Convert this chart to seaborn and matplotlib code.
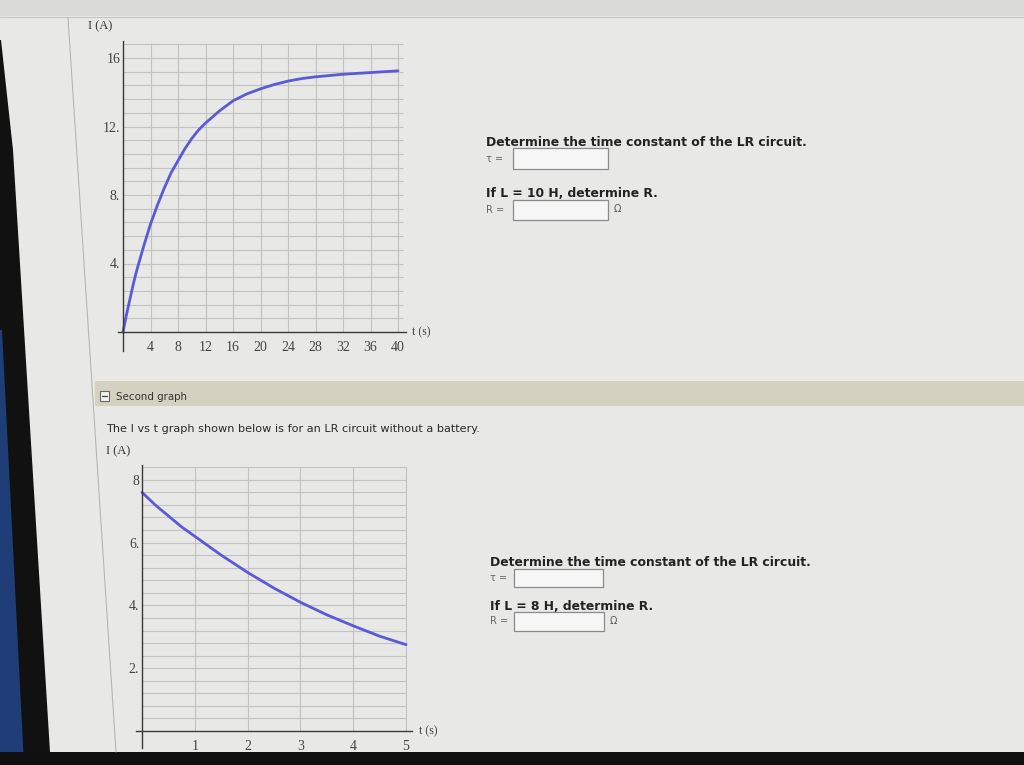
import numpy as np
import pandas as pd
import matplotlib
matplotlib.use("Agg")
import matplotlib.pyplot as plt
import seaborn as sns
from matplotlib.patches import Rectangle, Polygon

# ---------------- data ----------------
t_charge = [0, 0.5, 1, 1.5, 2, 2.5, 3, 4, 5, 6, 7, 8, 9, 10, 11, 12, 14, 16, 18,
            20, 22, 24, 26, 28, 32, 36, 40]
i_charge = [0, 1.0, 1.9, 2.8, 3.6, 4.3, 5.0, 6.3, 7.4, 8.4, 9.3, 10.0, 10.7, 11.3,
            11.8, 12.2, 12.9, 13.5, 13.9, 14.2, 14.45, 14.65, 14.8, 14.9, 15.05,
            15.15, 15.25]
x1_ticks = [4, 8, 12, 16, 20, 24, 28, 32, 36, 40]
x1_labels = ["4", "8", "12", "16", "20", "24", "28", "32", "36", "40"]
y1_ticks = [4, 8, 12, 16]
y1_labels = ["4.", "8.", "12.", "16"]

t_decay = [0, 0.25, 0.5, 0.75, 1, 1.5, 2, 2.5, 3, 3.5, 4, 4.5, 5]
i_decay = [7.6, 7.2, 6.85, 6.5, 6.2, 5.6, 5.05, 4.55, 4.1, 3.7, 3.35, 3.02, 2.75]
x2_ticks = [1, 2, 3, 4, 5]
x2_labels = ["1", "2", "3", "4", "5"]
y2_ticks = [2, 4, 6, 8]
y2_labels = ["2.", "4.", "6.", "8"]

# ---------------- style ----------------
sns.set_theme(style="white")
plt.rcParams["font.family"] = ["DejaVu Sans"]

W, H = 1024, 765
fig = plt.figure(figsize=(W / 100, H / 100), dpi=100)
page = "#e8e8e6"
fig.patch.set_facecolor(page)

def px_axes(x0, x1, y0, y1, z=1):
    return fig.add_axes([x0 / W, 1 - y1 / H, (x1 - x0) / W, (y1 - y0) / H], zorder=z)

# ---------------- background decorations (pixel space) ----------------
bg = px_axes(0, W, 0, H, z=0)
bg.set_xlim(0, W)
bg.set_ylim(H, 0)
bg.axis("off")
bg.add_patch(Rectangle((0, 0), W, 16, color="#dadad8", lw=0))
bg.plot([0, W], [17, 17], color="#c4c4c4", lw=0.8)
bg.plot([68, 116], [18, 752], color="#b5b5b5", lw=0.8)
bg.add_patch(Rectangle((95, 381), W - 95, 25, color="#d5d1c0", lw=0))
bg.add_patch(Rectangle((100, 391), 9, 10, facecolor="#f2f2f2", edgecolor="#666", lw=0.8))
bg.plot([102, 107], [396, 396], color="#444", lw=0.9)
bg.text(116, 397, "Second graph", fontsize=7.4, color="#333", va="center")
bg.text(106, 429, "The I vs t graph shown below is for an LR circuit without a battery.",
        fontsize=8.1, color="#2a2a2a", va="center")
bg.text(88, 26, "I (A)", fontsize=9, color="#333", va="center", family="Liberation Serif")
bg.text(106, 451, "I (A)", fontsize=9, color="#333", va="center", family="Liberation Serif")

def answer_block(x, y_title, y_tau, box_tau, y_if, if_text, y_r, box_r, y_ohm):
    bg.text(x, y_title, "Determine the time constant of the LR circuit.", fontsize=8.9,
            fontweight="bold", color="#222", va="center")
    bg.text(x, y_tau, "τ =", fontsize=7, color="#666", va="center")
    bg.add_patch(Rectangle((box_tau[0], box_tau[1]), box_tau[2] - box_tau[0],
                           box_tau[3] - box_tau[1], facecolor="#f6f6f6",
                           edgecolor="#8a8a8a", lw=0.9))
    bg.text(x, y_if, if_text, fontsize=8.9, fontweight="bold", color="#222", va="center")
    bg.text(x, y_r, "R =", fontsize=7, color="#666", va="center")
    bg.add_patch(Rectangle((box_r[0], box_r[1]), box_r[2] - box_r[0],
                           box_r[3] - box_r[1], facecolor="#f6f6f6",
                           edgecolor="#8a8a8a", lw=0.9))
    bg.text(box_r[2] + 6, y_ohm, "Ω", fontsize=7, color="#555", va="center")

answer_block(486, 142, 159, (513, 148, 608, 169), 193, "If L = 10 H, determine R.",
             210, (513, 200, 608, 220), 209)
answer_block(490, 563, 578, (514, 569, 603, 587), 606, "If L = 8 H, determine R.",
             621, (514, 612, 604, 631), 621)

# screen bezel / frame
bg.add_patch(Polygon([(0, 40), (1, 40), (13, 150), (50, 752), (0, 752)], closed=True,
                     color="#111", lw=0))
bg.add_patch(Polygon([(0, 330), (2, 330), (24, 765), (0, 765)], closed=True, color="#1f3e78", lw=0))
bg.add_patch(Rectangle((0, 752), W, 13, color="#101010", lw=0))

curve_col = "#5a5ad8"
axis_col = "#3a3a3a"
grid_col = "#c2c2c2"
tick_font = dict(family="Liberation Serif", size=10, color="#444")

def style_graph(ax, xlim, ylim, xt, xl, yt, yl, gx, gy, gtop, gright, ybot, xleft, xright):
    ax.set_facecolor("none")
    ax.set_xlim(*xlim)
    ax.set_ylim(*ylim)
    for s in ["top", "right"]:
        ax.spines[s].set_visible(False)
    ax.spines["left"].set_position(("data", 0))
    ax.spines["bottom"].set_position(("data", 0))
    ax.spines["left"].set_bounds(ybot, gtop + 0.15 * (gy[1] - gy[0]))
    ax.spines["bottom"].set_bounds(xleft, xright)
    for s in ["left", "bottom"]:
        ax.spines[s].set_color(axis_col)
        ax.spines[s].set_linewidth(1.0)
    ax.vlines(gx, 0, gtop, color=grid_col, lw=0.8, zorder=0)
    ax.hlines(gy, 0, gright, color=grid_col, lw=0.8, zorder=0)
    ax.set_xticks(xt, labels=xl)
    ax.set_yticks(yt, labels=yl)
    ax.tick_params(axis="x", direction="inout", length=7, width=0.9, color=axis_col, pad=3)
    ax.tick_params(axis="y", direction="in", length=6, width=0.9, color=axis_col, pad=2)
    for lab in ax.get_xticklabels() + ax.get_yticklabels():
        lab.set_fontfamily(tick_font["family"])
        lab.set_fontsize(tick_font["size"])
        lab.set_color(tick_font["color"])
    ax.set_xlabel("")
    ax.set_ylabel("")

# ---------------- graph 1 (charging) ----------------
# pixel mapping: x = 123 + 6.875 t ; y = 332 - 17.125 I
ax1 = px_axes(123 - 6.875 * 2.5, 123 + 6.875 * 43, 332 - 17.125 * 17.6, 332 + 17.125 * 1.5, z=2)
df1 = pd.DataFrame({"t": t_charge, "I": i_charge})
sns.lineplot(data=df1, x="t", y="I", ax=ax1, color=curve_col, lw=2.0)
style_graph(ax1, (-2.5, 43), (-1.5, 17.6), x1_ticks, x1_labels, y1_ticks, y1_labels,
            x1_ticks, np.arange(0.8, 17.0, 0.8), 16.9, 40.7, -1.1, -0.8, 41.2)
ax1.text(42.0, 0, "t (s)", fontsize=8.5, color="#444", va="center", ha="left",
         family="Liberation Serif")

# ---------------- graph 2 (decay) ----------------
# pixel mapping: x = 142 + 52.8 t ; y = 731 - 31.4 I
ax2 = px_axes(142 - 52.8 * 0.45, 142 + 52.8 * 5.6, 731 - 31.4 * 8.9, 731 + 31.4 * 0.9, z=2)
df2 = pd.DataFrame({"t": t_decay, "I": i_decay})
sns.lineplot(data=df2, x="t", y="I", ax=ax2, color=curve_col, lw=2.0)
style_graph(ax2, (-0.45, 5.6), (-0.9, 8.9), x2_ticks, x2_labels, y2_ticks, y2_labels,
            x2_ticks, np.arange(0.4, 8.5, 0.4), 8.4, 5.0, -0.55, -0.12, 5.12)
ax2.text(5.25, 0, "t (s)", fontsize=8.5, color="#444", va="center", ha="left",
         family="Liberation Serif")

fig.savefig("out.png", dpi=100, facecolor=fig.get_facecolor())
